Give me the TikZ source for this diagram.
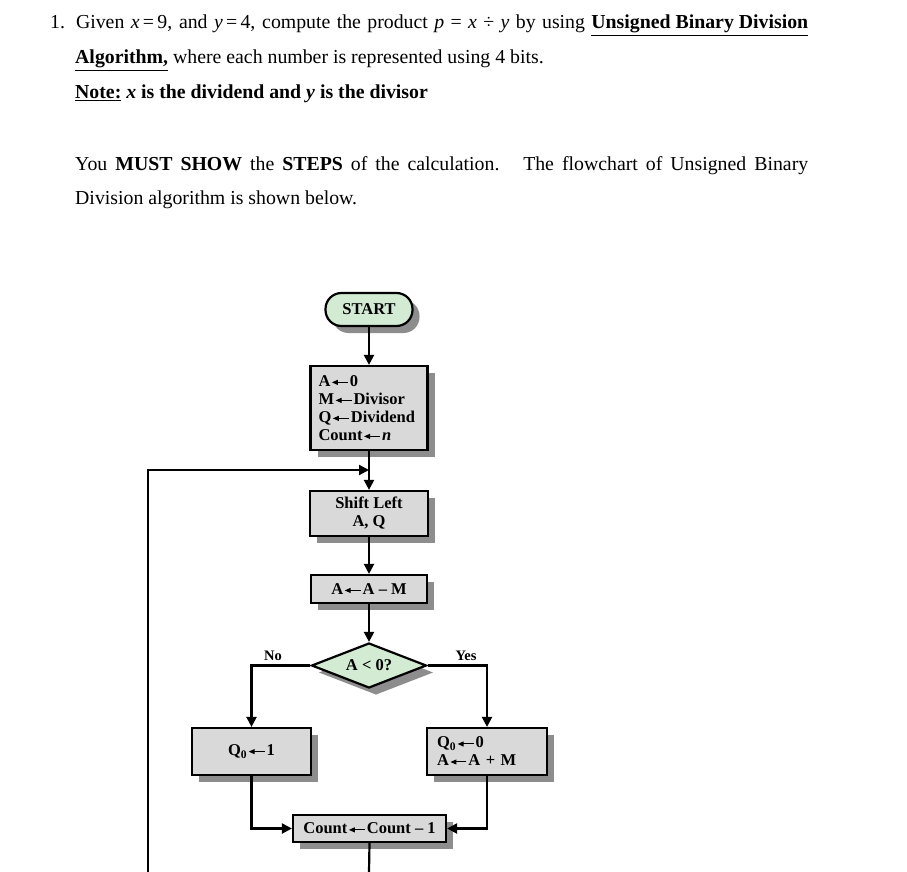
\documentclass[tikz,border=0pt]{standalone}
\usepackage{fontspec}
\setmainfont{Liberation Serif}
\usetikzlibrary{arrows.meta,shapes.geometric,shadows}
\definecolor{boxgray}{HTML}{D9D9D9}
\definecolor{boxgreen}{HTML}{D2EBD2}
\definecolor{shadowgray}{HTML}{7A7A7A}
\newcommand{\la}{\kern1pt\raisebox{0.5pt}{\tikz[baseline=-3.5pt]\draw[-{Triangle[width=5pt,length=6pt]},line width=1pt](16pt,0)--(0,0);}\kern1.5pt}
\tikzset{
  body/.style={font=\fontsize{19.8}{23}\selectfont, anchor=base west, inner sep=0},
  fbox/.style={draw=black, line width=2.2pt, fill=boxgray, font=\fontsize{16.5}{18}\selectfont\bfseries,
     drop shadow={shadow xshift=7pt, shadow yshift=-7pt, fill=shadowgray, opacity=0.85}},
  conn/.style={line width=2.2pt},
  arr/.style={conn, -{Triangle[width=10pt,length=10pt]}},
  lbl/.style={font=\fontsize{14.5}{16}\selectfont\bfseries, inner sep=0}
}
\begin{document}
\begin{tikzpicture}[x=1pt,y=-1pt]
\useasboundingbox (0,0) rectangle (907,872);
\fill[white] (0,0) rectangle (907,872);
% text
\node[body] (t1) at (50,29) {\makebox[758pt][s]{1. Given \textit{x}\,=\,9, and \textit{y}\,=\,4, compute the product \textit{p} = \textit{x} ÷ \textit{y} by using \underline{\textbf{Unsigned Binary Division}}}};
\node[body] (t2) at (75,64) {\underline{\textbf{Algorithm,}} where each number is represented using 4 bits.};
\node[body] (t3) at (75,99) {\underline{\textbf{Note:}} \textbf{\textit{x} is the dividend and \textit{y} is the divisor}};
\node[body] (t4) at (75,170) {\makebox[733pt][s]{You \textbf{MUST SHOW} the \textbf{STEPS} of the calculation. \ The flowchart of Unsigned Binary}};
\node[body] (t5) at (75,204) {Division algorithm is shown below.};
% flowchart
\node[fbox, fill=boxgreen, rounded corners=16pt, minimum width=87pt, minimum height=33pt] (start) at (369,309.5) {START};
\node[fbox, minimum width=117pt, minimum height=84pt, text width=101pt, align=left, inner sep=4pt] (init) at (369,408)
  {A\la0\\M\la Divisor\\Q\la Dividend\\Count\la\textit{n}};
\node[fbox, minimum width=118pt, minimum height=45pt, align=center] (shift) at (369,513.5) {Shift Left\\A, Q};
\node[fbox, minimum width=116pt, minimum height=28pt, inner sep=2pt] (sub) at (369,589) {A\la A -- M};
\node[fbox, fill=boxgreen, diamond, aspect=2.55, minimum width=115pt, minimum height=45pt, inner sep=0pt] (dia) at (369,665.5) {A {\normalfont\bfseries<} 0?};
\node[fbox, minimum width=119pt, minimum height=47pt] (q1) at (251.5,751.5) {Q\textsubscript{0}\la1};
\node[fbox, minimum width=120pt, minimum height=47pt, align=left, text width=100pt, inner sep=4pt] (q0) at (487,751.5) {Q\textsubscript{0}\la0\\A\la A + M};
\node[fbox, minimum width=153pt, minimum height=27pt, inner sep=2pt] (count) at (369.5,828.5) {Count\la Count -- 1};
\node[lbl] (no) at (273,656) {No};
\node[lbl] (yes) at (466,656) {Yes};
\coordinate (loopbot) at (148,872);
\coordinate (loopin) at (369,470);
\coordinate (cntbot) at (369,872);
% connectors
\draw[arr] (start) -- (init);
\draw[arr] (init) -- (shift);
\draw[arr] (loopbot) |- (loopin);
\draw[arr] (shift) -- (sub);
\draw[arr] (sub) -- (dia);
\draw[arr] (dia.west) -| (q1.north);
\draw[arr] (dia.east) -| (q0.north);
\draw[arr] (q1.south) |- (count.west);
\draw[arr] (q0.south) |- (count.east);
\draw[conn] (count.south) -- (cntbot);
\end{tikzpicture}
\end{document}
